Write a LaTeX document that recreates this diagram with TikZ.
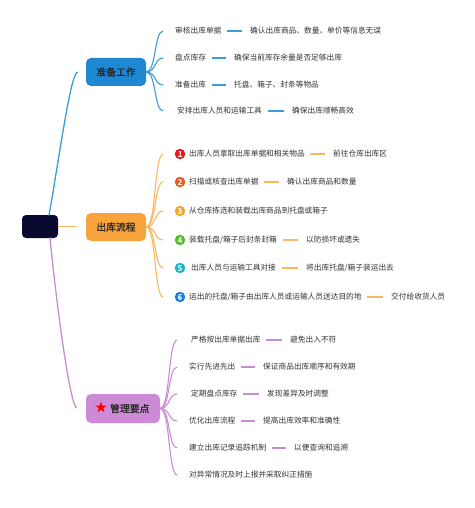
\documentclass[tikz,border=0pt]{standalone}
\usepackage{fontspec}
\newfontfamily\cjk{Noto Sans CJK SC}
\newfontfamily\cjkb[FakeBold=1.2]{Noto Sans CJK SC}
\usetikzlibrary{calc,shapes.geometric}
\definecolor{cblue}{HTML}{1E88D2}
\definecolor{lblue}{HTML}{3D9BD8}
\definecolor{corange}{HTML}{F9A33C}
\definecolor{lorange}{HTML}{F8B760}
\definecolor{cpurple}{HTML}{CD8AD6}
\definecolor{lpurple}{HTML}{C98CD4}
\definecolor{navy}{HTML}{0A0A30}
\definecolor{txt}{HTML}{333333}
\definecolor{nA}{HTML}{E3191B}
\definecolor{nB}{HTML}{F2581E}
\definecolor{nC}{HTML}{F9A825}
\definecolor{nD}{HTML}{56BE2C}
\definecolor{nE}{HTML}{1EB6C6}
\definecolor{nF}{HTML}{1B7FE0}
\newcommand\mmcurve[3]{\draw[#1] (#2) .. controls ($(#2)+(10,0)$) and ($(#3)+(-9,0)$) .. (#3);}
\begin{document}
\begin{tikzpicture}[x=1pt,y=-1pt,
  kid/.style={anchor=west, inner sep=0pt, text=txt, font=\cjk\fontsize{7.7}{9}\selectfont},
  branch/.style={rounded corners=5pt, minimum height=28pt, inner sep=0pt, text=black!85, font=\cjkb\fontsize{9.8}{11}\selectfont},
  num/.style={circle, inner sep=0pt, minimum size=10.5pt, text=white, font=\cjkb\fontsize{8}{9}\selectfont},
  lb/.style={line width=1.1pt, lblue},
  lo/.style={line width=1.1pt, lorange},
  lp/.style={line width=1.1pt, lpurple},
  db/.style={line width=1.5pt, lblue},
  dor/.style={line width=1.5pt, lorange},
  dp/.style={line width=1.5pt, lpurple}]
\useasboundingbox (0,0) rectangle (474,508);

% root
\node[fill=navy, rounded corners=4pt, minimum width=36pt, minimum height=23pt, inner sep=0pt] (root) at (40,226.5) {};

% branches
\node[branch, fill=cblue, minimum width=60pt] (b1) at (116,72) {准备工作};
\node[branch, fill=corange, minimum width=60pt] (b2) at (116,227) {出库流程};
\node[branch, fill=cpurple, minimum width=74pt, minimum height=29pt] (b3) at (123,408.5) {};
\node[star, star points=5, star point ratio=2.4, fill=red, minimum size=11.5pt, inner sep=0pt] (st) at (101,407.5) {};
\node[anchor=west, inner sep=0pt, text=black!85, font=\cjkb\fontsize{9.8}{11}\selectfont] (b3t) at (110,408.5) {管理要点};

% root connectors
\coordinate (r1) at (49,215.5);
\coordinate (b1in) at (78,72);
\coordinate (r3) at (50,237.5);
\coordinate (b3in) at (77,408);
\coordinate (b2in) at (77,226.5);
\draw[lb, line width=1.3pt] (r1) .. controls (62,140) and (71,72) .. (b1in);
\draw[lp, line width=1.3pt] (r3) .. controls (56,300) and (70,408) .. (b3in);
\draw[lo, line width=1.3pt] (root.east) -- (b2in);

% ---------- branch 1 ----------
\node[kid] (c11) at (175,31) {审核出库单据};
\node[kid] (d11) at (250,31) {确认出库商品、数量、单价等信息无误};
\node[kid] (c12) at (175,58) {盘点库存};
\node[kid] (d12) at (234,58) {确保当前库存余量是否足够出库};
\node[kid] (c13) at (175,85) {准备出库};
\node[kid] (d13) at (234,85) {托盘、箱子、封条等物品};
\node[kid] (c14) at (177,111) {安排出库人员和运输工具};
\node[kid] (d14) at (292,111) {确保出库顺畅高效};
\path ($(b1.east)+(17,0)$) coordinate (b1x);
\foreach \i in {11,12,13,14}{
  \coordinate (e\i) at (b1x |- c\i.west);
  \mmcurve{lb}{b1.east}{e\i}
  \draw[db] ($(c\i.east)+(5.5,0)$) -- ($(d\i.west)+(-8.5,0)$);
}

% ---------- branch 2 ----------
\node[num, fill=nA] (n21) at (180,154) {1};
\node[num, fill=nB] (n22) at (180,182) {2};
\node[num, fill=nC] (n23) at (180,211) {3};
\node[num, fill=nD] (n24) at (180,240) {4};
\node[num, fill=nE] (n25) at (180,268) {5};
\node[num, fill=nF] (n26) at (180,297) {6};
\node[kid] (c21) at (189,154) {出库人员拿取出库单据和相关物品};
\node[kid] (d21) at (333,154) {前往仓库出库区};
\node[kid] (c22) at (189,182) {扫描或核查出库单据};
\node[kid] (d22) at (287,182) {确认出库商品和数量};
\node[kid] (c23) at (189,211) {从仓库拣选和装载出库商品到托盘或箱子};
\node[kid] (c24) at (189,240) {装载托盘/箱子后封条封箱};
\node[kid] (d24) at (306,240) {以防损坏或遗失};
\node[kid] (c25) at (191,268) {出库人员与运输工具对接};
\node[kid] (d25) at (306,268) {将出库托盘/箱子装运出去};
\node[kid] (c26) at (189,297) {运出的托盘/箱子由出库人员或运输人员送达目的地};
\node[kid] (d26) at (391,297) {交付给收货人员};
\path ($(b2.east)+(17,0)$) coordinate (b2x);
\foreach \i in {21,22,23,24,25,26}{
  \coordinate (e\i) at (b2x |- n\i.west);
  \mmcurve{lo}{b2.east}{e\i}
}
\foreach \i in {21,22,24,25,26}{
  \draw[dor] ($(c\i.east)+(5.5,0)$) -- ($(d\i.west)+(-8.5,0)$);
}

% ---------- branch 3 ----------
\node[kid] (c31) at (191,340) {严格按出库单据出库};
\node[kid] (d31) at (290,340) {避免出入不符};
\node[kid] (c32) at (189,367) {实行先进先出};
\node[kid] (d32) at (263,367) {保证商品出库顺序和有效期};
\node[kid] (c33) at (191,394) {定期盘点库存};
\node[kid] (d33) at (267,394) {发现差异及时调整};
\node[kid] (c34) at (189,421) {优化出库流程};
\node[kid] (d34) at (263,421) {提高出库效率和准确性};
\node[kid] (c35) at (189,448) {建立出库记录追踪机制};
\node[kid] (d35) at (294,448) {以便查询和追溯};
\node[kid] (c36) at (189,475) {对异常情况及时上报并采取纠正措施};
\path ($(b3.east)+(17,0)$) coordinate (b3x);
\foreach \i in {31,32,33,34,35,36}{
  \coordinate (e\i) at (b3x |- c\i.west);
  \mmcurve{lp}{b3.east}{e\i}
}
\foreach \i in {31,32,33,34,35}{
  \draw[dp] ($(c\i.east)+(5.5,0)$) -- ($(d\i.west)+(-8.5,0)$);
}
\end{tikzpicture}
\end{document}
